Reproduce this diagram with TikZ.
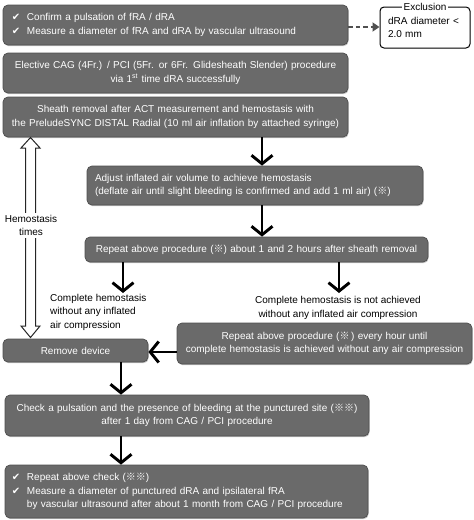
\documentclass[tikz,border=0pt]{standalone}
\usepackage{fontspec}
\setmainfont{Liberation Sans}
\newfontfamily\dejavu{DejaVu Sans}
\newfontfamily\cjk{Noto Sans CJK JP}
\usetikzlibrary{arrows.meta,shadows,calc}
\definecolor{boxgray}{RGB}{106,106,106}
\definecolor{boxedge}{RGB}{78,78,78}
\definecolor{dashgray}{RGB}{80,80,80}
\newcommand{\ckm}{\makebox[15pt][l]{\dejavu\char"2714}}
\newcommand{\rfm}{{\cjk ※}}
\begin{document}
\begin{tikzpicture}[x=1pt,y=-1pt,
  box/.style={rectangle, rounded corners=5pt, fill=boxgray, draw=boxedge, line width=0.7pt,
    text=white, inner ysep=0pt, font=\fontsize{10}{13.5}\selectfont,
    drop shadow={shadow xshift=0.6pt, shadow yshift=-1.2pt, opacity=0.45}},
  blk/.style={line width=2.9pt, -{Straight Barb[length=8.5pt,width=21pt]}},
  plain/.style={font=\fontsize{10}{13.5}\selectfont, text=black}]
\useasboundingbox (0,0) rectangle (474,520);

\node[box, minimum height=40pt, inner xsep=9pt, text width=327pt, align=left] (b1) at (175.5,25)
  {\ckm Confirm a pulsation of fRA / dRA\\ \ckm Measure a diameter of fRA and dRA by vascular ultrasound};
\node[box, minimum height=40pt, inner xsep=4pt, text width=337pt, align=center] (b2) at (175.5,73)
  {Elective CAG (4Fr.) / PCI (5Fr. or 6Fr. Glidesheath Slender) procedure\\ via 1\textsuperscript{st} time dRA successfully};
\node[box, minimum height=40pt, inner xsep=4pt, text width=337pt, align=center] (b3) at (175.5,117)
  {Sheath removal after ACT measurement and hemostasis with\\ the PreludeSYNC DISTAL Radial (10 ml air inflation by attached syringe)};
\node[box, minimum height=39pt, inner xsep=8pt, text width=320pt, align=left] (b4) at (255,185.5)
  {Adjust inflated air volume to achieve hemostasis\\ (deflate air until slight bleeding is confirmed and add 1 ml air) (\rfm)};
\node[box, minimum height=25pt, inner xsep=4pt, text width=335pt, align=center] (b5) at (256.5,249.5)
  {Repeat above procedure (\rfm) about 1 and 2 hours after sheath removal};
\node[box, minimum height=41pt, inner xsep=4pt, text width=287pt, align=center] (b6) at (324.5,343.5)
  {Repeat above procedure (\rfm\,) every hour until\\ complete hemostasis is achieved without any air compression};
\node[box, minimum height=23pt, inner xsep=4pt, text width=137pt, align=center] (rd) at (75.5,350.5)
  {Remove device};
\node[box, minimum height=41pt, inner xsep=4pt, text width=356pt, align=center] (b7) at (187,415.5)
  {Check a pulsation and the presence of bleeding at the punctured site (\rfm\rfm)\\ after 1 day from CAG / PCI procedure};
\node[box, minimum height=53pt, inner xsep=7pt, text width=349pt, align=left] (b8) at (186.5,491.5)
  {\ckm Repeat above check (\rfm\rfm)\\ \ckm Measure a diameter of punctured dRA and ipsilateral fRA\\ \hspace*{15pt}by vascular ultrasound after about 1 month from CAG / PCI procedure};

\node[rectangle, rounded corners=4pt, draw=black, fill=white, line width=1pt, minimum height=41pt,
  inner xsep=8pt, inner ysep=0pt, text width=74pt, align=left, plain] (exc) at (425,27.5)
  {dRA diameter <\\ 2.0 mm};
\node[plain, fill=white, inner sep=1.5pt] (exclbl) at (425,6.5) {Exclusion};

\draw[dashgray, line width=2.3pt, dash pattern=on 4.5pt off 3pt, -{Triangle[length=7pt,width=9pt]}]
  (b1.east |- 0,27) -- (exc.west |- 0,27);

\draw[blk] (262,0 |- b3.south) -- (262,0 |- b4.north);
\draw[blk] (262,0 |- b4.south) -- (262,0 |- b5.north);
\coordinate (e1) at (123,293);
\coordinate (e2) at (339,293);
\draw[blk] (123,0 |- b5.south) -- (e1);
\draw[blk] (339,0 |- b5.south) -- (e2);
\draw[blk] (b6.west |- 0,352) -- (rd.east |- 0,352);
\draw[blk] (121,0 |- rd.south) -- (121,0 |- b7.north);
\draw[blk] (121,0 |- b7.south) -- (121,0 |- b8.north);

\node[plain, anchor=north west, align=left, inner sep=0pt] (t1) at (50,294)
  {Complete hemostasis\\ without any inflated\\ air compression};
\node[plain, align=center, inner sep=0pt] (t2) at (338,308)
  {Complete hemostasis is not achieved\\ without any inflated air compression};

\draw[fill=white, draw=black!85, line width=1pt]
  (30.5,137.5) -- (40,148) -- (35.5,148) -- (35.5,326) -- (40,326) -- (30.5,337.5)
  -- (21,326) -- (25.5,326) -- (25.5,148) -- (21,148) -- cycle;
\node[plain, fill=white, align=center, inner xsep=1pt, inner ysep=2pt] (ht) at (31,225.5)
  {Hemostasis\\ times};
\end{tikzpicture}
\end{document}
